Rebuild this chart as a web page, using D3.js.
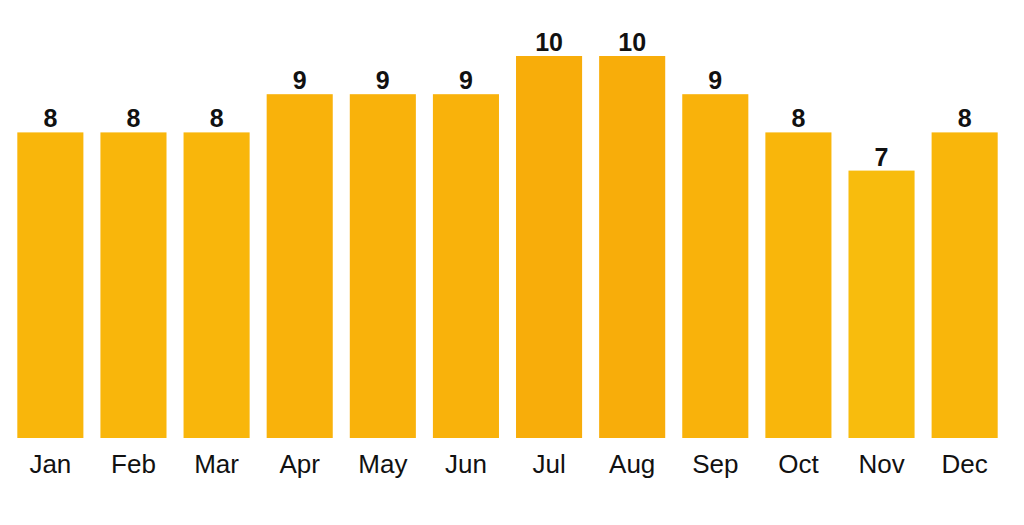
<!DOCTYPE html>
<html>
<head>
<meta charset="utf-8">
<script src="https://cdn.jsdelivr.net/npm/d3@7"></script>
<style>
  body { margin: 0; background: #fff; }
  text { font-family: "Liberation Sans", Arial, sans-serif; }
</style>
</head>
<body>
<div id="chart"></div>
<script>
const months = ["Jan", "Feb", "Mar", "Apr", "May", "Jun", "Jul", "Aug", "Sep", "Oct", "Nov", "Dec"];
const values = [8, 8, 8, 9, 9, 9, 10, 10, 9, 8, 7, 8];

const width = 1024;
const height = 525;

const svg = d3.select("#chart")
  .append("svg")
  .attr("width", width)
  .attr("height", height);

// Scales
const xScale = d3.scaleBand()
  .domain(months)
  .range([9, 1006])
  .paddingInner(0.205)
  .paddingOuter(0.1);

const yScale = d3.scaleLinear()
  .domain([0, 10])
  .range([438, 56]);

// slightly deeper orange for higher values
const color = d3.scaleLinear()
  .domain([7, 8, 10])
  .range(["#f8bc0d", "#f9b60b", "#f8ad0a"]);

const data = months.map((m, i) => ({ name: m, value: values[i] }));

// Bars
svg.selectAll(".bar")
  .data(data)
  .enter()
  .append("rect")
  .attr("class", "bar")
  .attr("x", d => xScale(d.name))
  .attr("y", d => yScale(d.value))
  .attr("width", xScale.bandwidth())
  .attr("height", d => yScale(0) - yScale(d.value))
  .attr("fill", d => color(d.value));

// Value labels
svg.selectAll(".val")
  .data(data)
  .enter()
  .append("text")
  .attr("class", "val")
  .attr("x", d => xScale(d.name) + xScale.bandwidth() / 2)
  .attr("y", d => yScale(d.value) - 5)
  .attr("text-anchor", "middle")
  .attr("font-size", 25)
  .attr("font-weight", "bold")
  .attr("fill", "#111")
  .text(d => d.value);

// X axis (labels only)
const xAxis = svg.append("g")
  .attr("transform", `translate(0, ${yScale(0)})`)
  .call(d3.axisBottom(xScale).tickSize(0).tickPadding(0));

xAxis.select(".domain").remove();
xAxis.selectAll("text")
  .attr("dy", null)
  .attr("y", 35)
  .attr("font-size", 26)
  .attr("font-family", "Liberation Sans, Arial, sans-serif")
  .attr("fill", "#111");
</script>
</body>
</html>
